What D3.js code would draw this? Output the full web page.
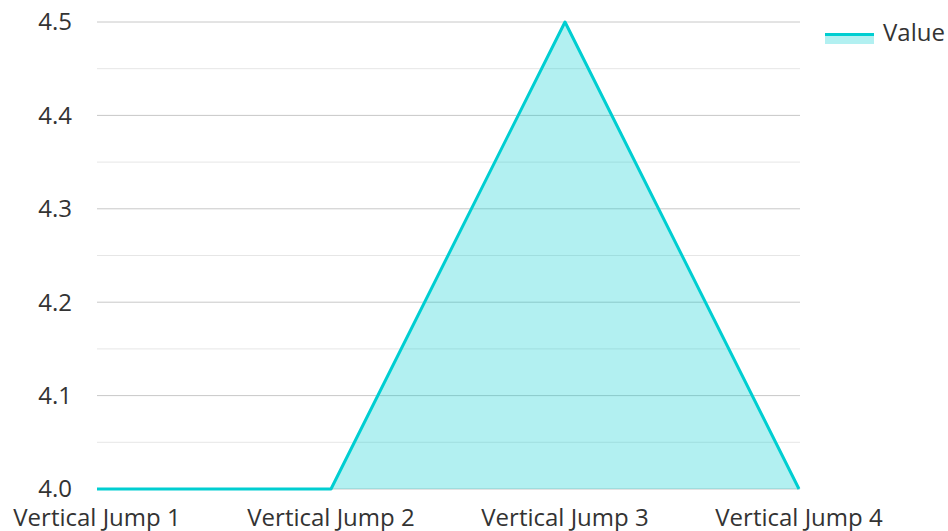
<!DOCTYPE html>
<html>
<head>
<meta charset="utf-8">
<script src="https://cdn.jsdelivr.net/npm/d3@7"></script>
<style>
  body { margin: 0; background: #fff; }
  text { font-family: "Open Sans", "Noto Sans", sans-serif; fill: #333; }
</style>
</head>
<body>
<div id="chart"></div>
<script>
const categories = ['Vertical Jump 1', 'Vertical Jump 2', 'Vertical Jump 3', 'Vertical Jump 4'];
const values = [4.0, 4.0, 4.5, 4.0];
const majorTicks = [4.0, 4.1, 4.2, 4.3, 4.4, 4.5];
const minorTicks = [4.05, 4.15, 4.25, 4.35, 4.45];
const seriesName = 'Value';

const width = 948, height = 531;
const margin = {top: 22, right: 148, bottom: 42, left: 97};
const lineColor = '#00ced1';

const svg = d3.select('#chart').append('svg')
    .attr('width', width)
    .attr('height', height);

const x = d3.scalePoint()
    .domain(categories)
    .range([margin.left, width - margin.right - 1]);

const y = d3.scaleLinear()
    .domain([4.0, 4.5])
    .range([height - margin.bottom, margin.top]);

// minor grid lines
svg.append('g').selectAll('line')
  .data(minorTicks)
  .join('line')
    .attr('x1', margin.left).attr('x2', width - margin.right)
    .attr('y1', d => y(d)).attr('y2', d => y(d))
    .attr('stroke', '#e6e6e6').attr('stroke-width', 1);

// major grid lines
svg.append('g').selectAll('line')
  .data(majorTicks)
  .join('line')
    .attr('x1', margin.left).attr('x2', width - margin.right)
    .attr('y1', d => y(d)).attr('y2', d => y(d))
    .attr('stroke', '#c8c8c8').attr('stroke-width', 1);

// y tick labels
svg.append('g').selectAll('text')
  .data(majorTicks)
  .join('text')
    .attr('x', 72)
    .attr('y', d => y(d))
    .attr('dy', '0.35em')
    .attr('text-anchor', 'end')
    .style('font-size', '24px')
    .text(d => d.toFixed(1));

// x labels
svg.append('g').selectAll('text')
  .data(categories)
  .join('text')
    .attr('x', d => x(d))
    .attr('y', height - 5)
    .attr('text-anchor', 'middle')
    .style('font-size', '24px')
    .text(d => d);

const pts = categories.map((c, i) => ({c, v: values[i]}));

const area = d3.area()
    .x(d => x(d.c))
    .y0(y(4.0))
    .y1(d => y(d.v));

const line = d3.line()
    .x(d => x(d.c))
    .y(d => y(d.v));

svg.append('path')
    .datum(pts)
    .attr('d', area)
    .attr('fill', lineColor)
    .attr('fill-opacity', 0.3);

svg.append('path')
    .datum(pts)
    .attr('d', line)
    .attr('fill', 'none')
    .attr('stroke', lineColor)
    .attr('stroke-width', 3)
    .attr('stroke-linejoin', 'round');

// legend
const lg = svg.append('g').attr('transform', 'translate(825,33)');
lg.append('rect')
    .attr('x', 0).attr('y', 0)
    .attr('width', 49).attr('height', 11)
    .attr('fill', lineColor).attr('fill-opacity', 0.3);
lg.append('line')
    .attr('x1', 0).attr('x2', 49)
    .attr('y1', 1.5).attr('y2', 1.5)
    .attr('stroke', lineColor).attr('stroke-width', 3);
lg.append('text')
    .attr('x', 58).attr('y', 8)
    .style('font-size', '24px')
    .text(seriesName);
</script>
</body>
</html>
